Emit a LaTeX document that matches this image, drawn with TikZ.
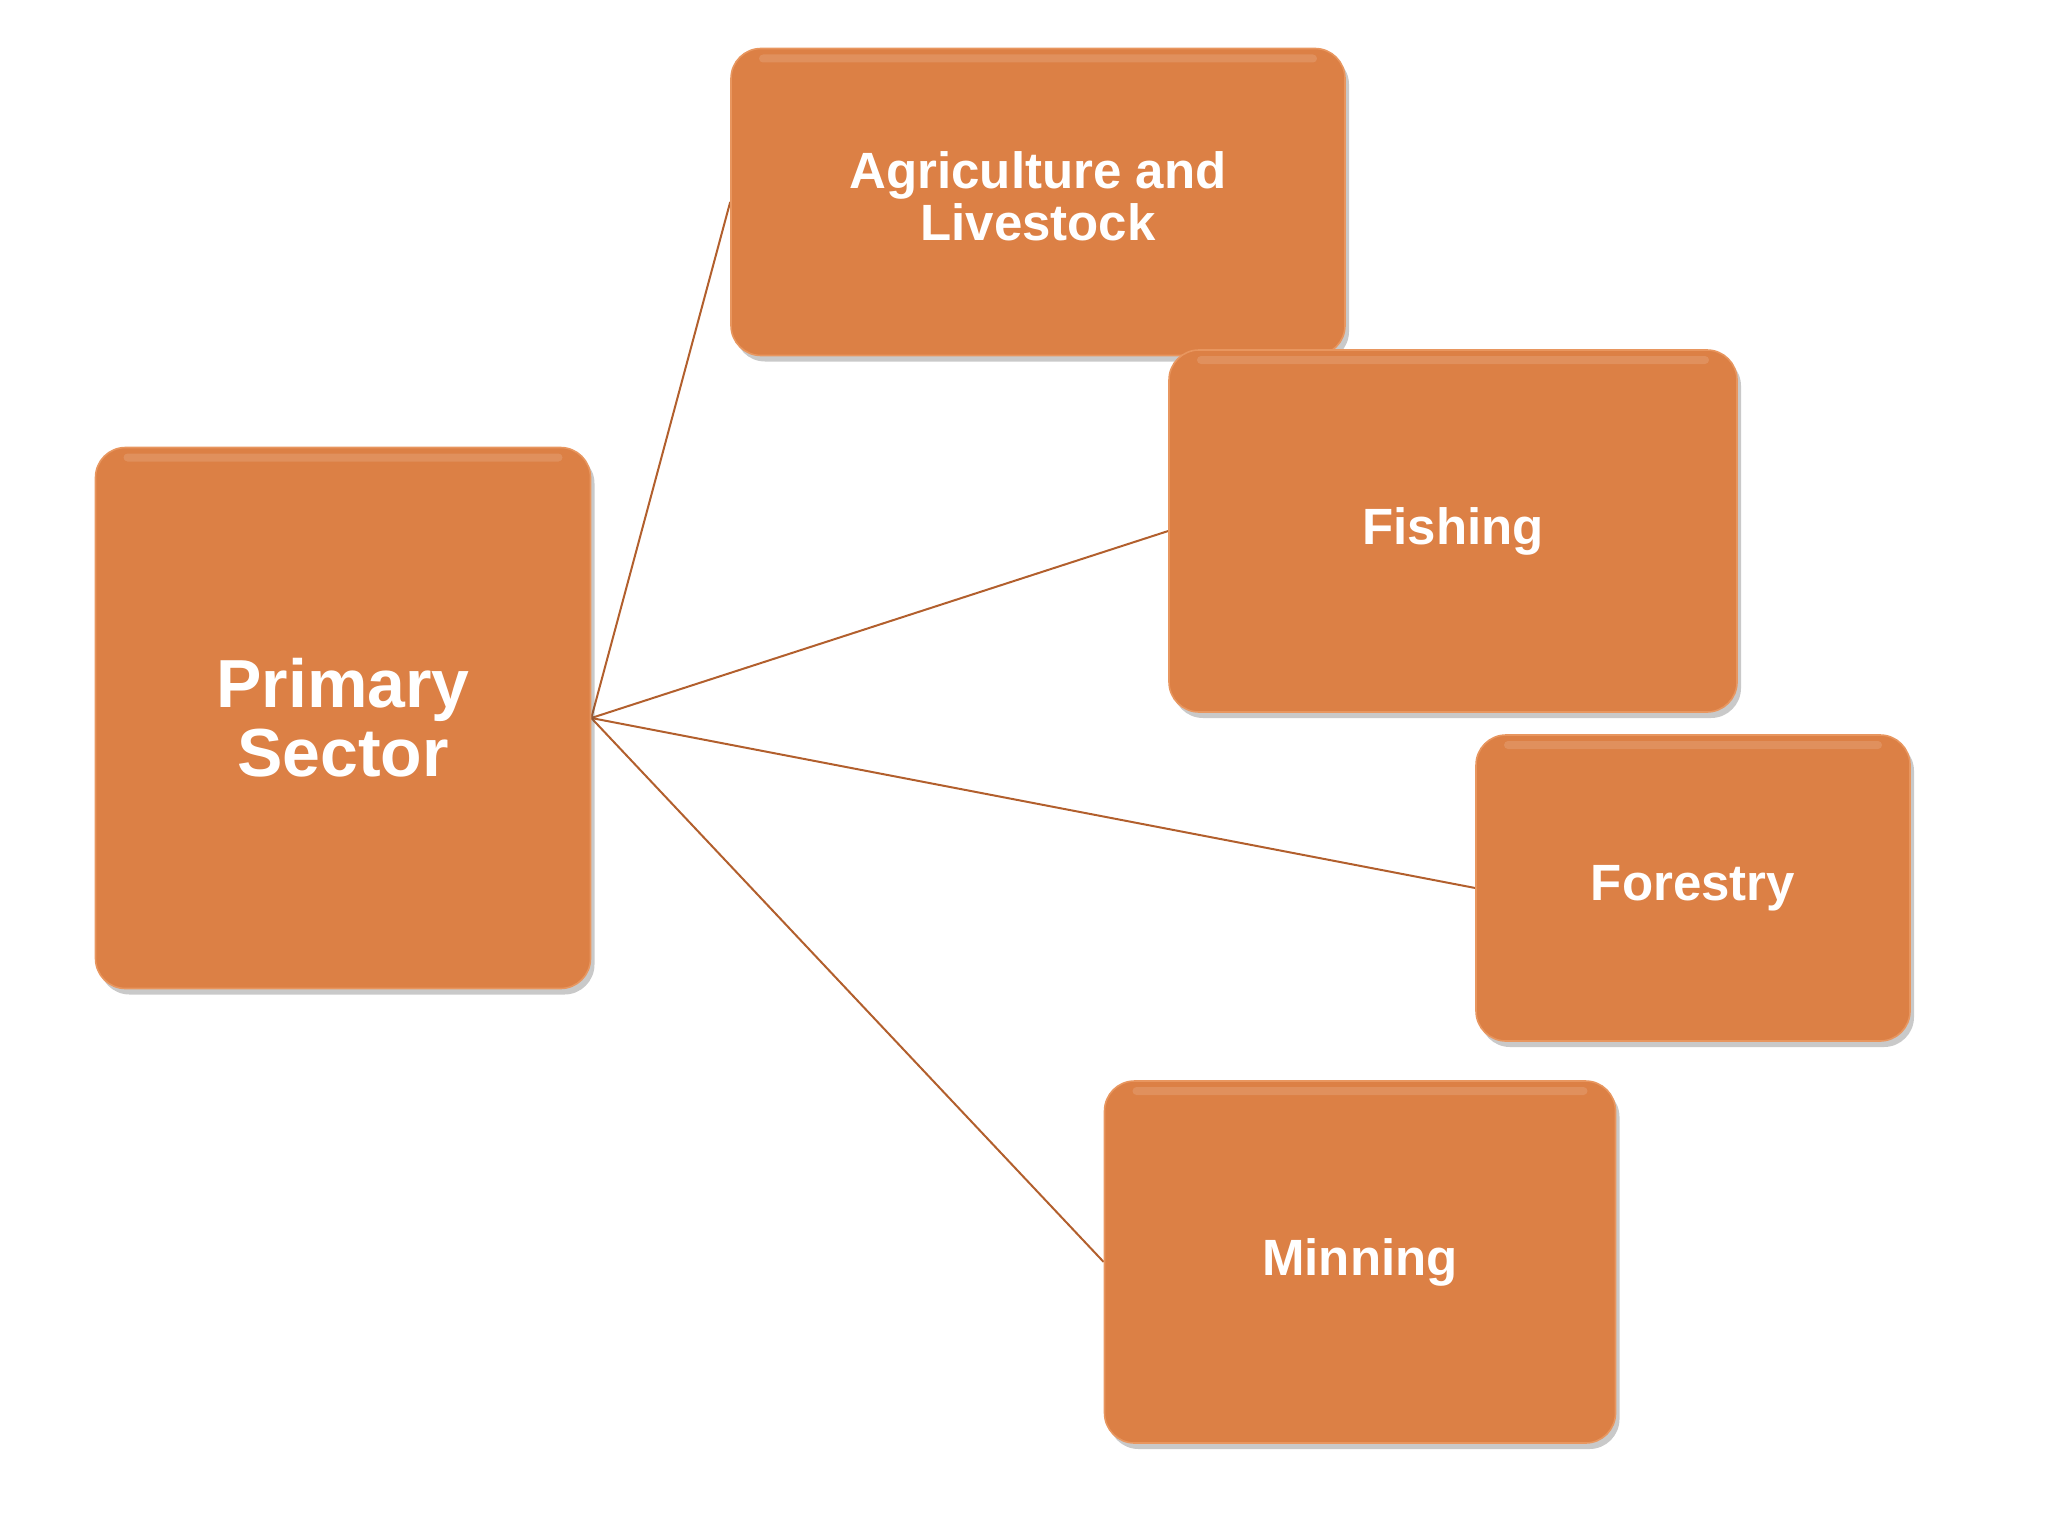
\documentclass[tikz,border=0pt]{standalone}
\usepackage{fontspec}
\setmainfont{Liberation Sans}
\usetikzlibrary{shadows,backgrounds}
\definecolor{boxfill}{RGB}{220,128,69}
\definecolor{boxedge}{RGB}{232,150,95}
\definecolor{linkc}{RGB}{178,95,45}
\tikzset{
  sbox/.style={rectangle, rounded corners=15pt, fill=boxfill, draw=boxedge, line width=0.8pt,
    text=white, font=\bfseries\fontsize{25.5}{26}\selectfont, align=center, inner sep=0pt,
    drop shadow={shadow xshift=2pt, shadow yshift=-3pt, opacity=0.3, fill=black!70},
    path picture={\fill[white, opacity=0.13, rounded corners=2pt]
      ([xshift=14pt,yshift=-3pt]path picture bounding box.north west) rectangle
      ([xshift=-14pt,yshift=-7pt]path picture bounding box.north east);}},
  link/.style={draw=linkc, line width=1pt}
}
\begin{document}
\begin{tikzpicture}[x=0.5pt,y=-0.5pt]
\useasboundingbox (0,0) rectangle (2048,1536);
\node[sbox, minimum width=247.5pt, minimum height=270.5pt, font=\bfseries\fontsize{34}{34.5}\selectfont] (ps) at (343,718) {Primary\\Sector};
\node[sbox, minimum width=307pt, minimum height=153.5pt] (ag) at (1038,202) {Agriculture and\\Livestock\\[-20pt]\mbox{}};
\node[sbox, minimum width=284pt, minimum height=181pt] (fi) at (1453,531) {Fishing};
\node[sbox, minimum width=217pt, minimum height=153pt] (fo) at (1693,888) {Forestry};
\node[sbox, minimum width=255.5pt, minimum height=181pt] (mi) at (1360,1262) {Minning};
\begin{scope}[on background layer]
\draw[link] (ps.east) -- (ag.west);
\draw[link] (ps.east) -- (fi.west);
\draw[link] (ps.east) -- (fo.west);
\draw[link] (ps.east) -- (mi.west);
\end{scope}
\end{tikzpicture}
\end{document}
